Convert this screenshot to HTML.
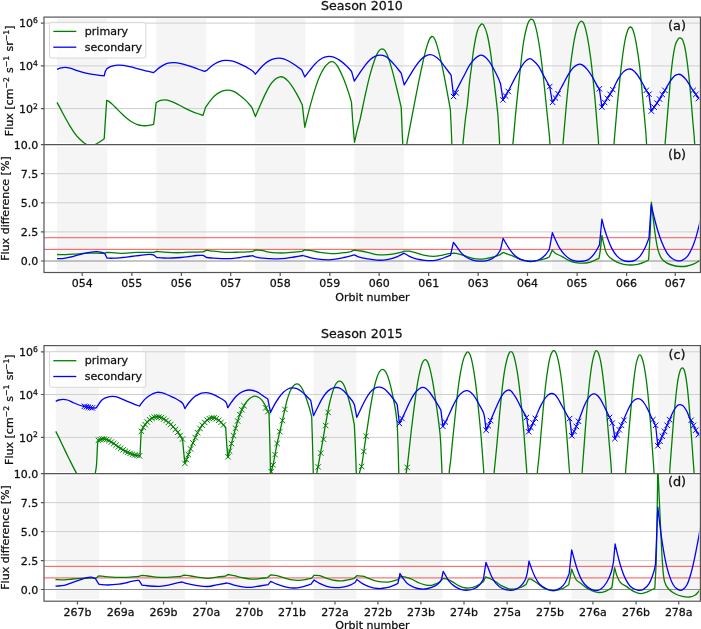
<!DOCTYPE html>
<html><head><meta charset="utf-8"><title>Flux comparison</title>
<style>html,body{margin:0;padding:0;background:#fff}svg{display:block}</style>
</head><body>
<svg width="701" height="629" viewBox="0 0 701 629" font-family='"DejaVu Sans", "Liberation Sans", sans-serif'>
<style>text{stroke:#111;stroke-width:0.28px;stroke-linejoin:round}</style>
<rect width="701" height="629" fill="#fff"/>
<defs><clipPath id="clip1t"><rect x="44" y="17.1" width="655.2" height="127.5"/></clipPath>
<clipPath id="clip1b"><rect x="44" y="144.6" width="655.2" height="127.9"/></clipPath></defs>
<rect x="57" y="18.5" width="50.3" height="124.3" fill="#f5f5f5"/>
<rect x="57" y="147" width="50.3" height="123.5" fill="#f5f5f5"/>
<rect x="156.3" y="18.5" width="50.1" height="124.3" fill="#f5f5f5"/>
<rect x="156.3" y="147" width="50.1" height="123.5" fill="#f5f5f5"/>
<rect x="255" y="18.5" width="50.3" height="124.3" fill="#f5f5f5"/>
<rect x="255" y="147" width="50.3" height="123.5" fill="#f5f5f5"/>
<rect x="354.3" y="18.5" width="49.6" height="124.3" fill="#f5f5f5"/>
<rect x="354.3" y="147" width="49.6" height="123.5" fill="#f5f5f5"/>
<rect x="453.3" y="18.5" width="49.6" height="124.3" fill="#f5f5f5"/>
<rect x="453.3" y="147" width="49.6" height="123.5" fill="#f5f5f5"/>
<rect x="552" y="18.5" width="50.2" height="124.3" fill="#f5f5f5"/>
<rect x="552" y="147" width="50.2" height="123.5" fill="#f5f5f5"/>
<rect x="651" y="18.5" width="48.4" height="124.3" fill="#f5f5f5"/>
<rect x="651" y="147" width="48.4" height="123.5" fill="#f5f5f5"/>
<line x1="44" x2="700.4" y1="23.1" y2="23.1" stroke="#cfcfcf" stroke-width="1"/>
<line x1="44" x2="700.4" y1="65.9" y2="65.9" stroke="#cfcfcf" stroke-width="1"/>
<line x1="44" x2="700.4" y1="108.6" y2="108.6" stroke="#cfcfcf" stroke-width="1"/>
<line x1="44" x2="700.4" y1="173.7" y2="173.7" stroke="#cfcfcf" stroke-width="1"/>
<line x1="44" x2="700.4" y1="202.8" y2="202.8" stroke="#cfcfcf" stroke-width="1"/>
<line x1="44" x2="700.4" y1="231.9" y2="231.9" stroke="#cfcfcf" stroke-width="1"/>
<line x1="44" x2="700.4" y1="261" y2="261" stroke="#8c8c8c" stroke-width="1"/>
<line x1="44" x2="700.4" y1="249.36" y2="249.36" stroke="#ff5252" stroke-width="1"/>
<line x1="44" x2="700.4" y1="237.72" y2="237.72" stroke="#ff5252" stroke-width="1"/>
<g clip-path="url(#clip1t)" fill="none" stroke-width="1.3" stroke-linejoin="round">
<path d="M57 102.4C58 104.23 59.01 106.06 60 107.9C61.68 111.03 63.29 114.19 65 117.3C66.62 120.26 68.25 123.22 70 126.1C71.55 128.65 73.11 131.22 74.9 133.6C76.41 135.62 78.11 137.53 79.9 139.3C81.44 140.83 83.06 142.4 84.9 143.5C86.59 144.5 88.61 145.52 90.5 145.6C92.37 145.68 94.39 144.73 96.2 144C97.52 143.47 98.7 142.58 99.9 141.8C101.36 140.85 102.77 139.8 104.2 138.8C104.6 132.47 104.99 126.13 105.4 119.8C105.82 113.33 106.27 106.87 106.7 100.4C107.33 100.63 108.05 100.72 108.6 101.1C109.95 102.05 111.18 103.25 112.4 104.4C114.11 106.02 115.73 107.74 117.4 109.4C119.06 111.04 120.7 112.7 122.4 114.3C124.03 115.84 125.65 117.4 127.4 118.8C128.99 120.07 130.65 121.28 132.4 122.3C133.98 123.22 135.67 124.02 137.4 124.6C138.97 125.12 140.65 125.43 142.3 125.6C143.95 125.77 145.65 125.79 147.3 125.6C149.42 125.36 151.5 124.73 153.6 124.3C154 121.13 154.43 117.97 154.8 114.8C155.26 110.84 155.67 106.87 156.1 102.9C157.33 102.13 158.46 101.06 159.8 100.6C161.36 100.06 163.14 99.85 164.8 99.9C166.47 99.95 168.2 100.36 169.8 100.9C172.36 101.76 174.85 102.92 177.3 104.1C179.85 105.32 182.27 106.83 184.8 108.1C187.27 109.33 189.75 110.55 192.3 111.6C194.75 112.61 197.29 113.43 199.8 114.3C200.86 114.67 201.93 114.97 203 115.3C203.83 112.67 204.67 110.03 205.5 107.4C207 105.3 208.38 103.11 210 101.1C211.55 99.17 213.17 97.25 215 95.6C216.5 94.25 218.21 93.03 220 92.1C221.55 91.3 223.3 90.79 225 90.4C226.2 90.12 227.49 89.96 228.7 90.1C230.39 90.29 232.16 90.67 233.7 91.4C235.9 92.44 237.95 93.92 239.9 95.4C242.11 97.08 244.23 98.93 246.2 100.9C248.23 102.93 250 105.23 251.9 107.4C253.07 110.47 254.23 113.53 255.4 116.6C256.9 113.1 258.37 109.59 259.9 106.1C261.54 102.35 263.12 98.58 264.9 94.9C266.46 91.68 267.97 88.39 269.9 85.4C271.3 83.22 272.96 81.05 274.9 79.4C276.29 78.22 278.16 77.3 279.9 76.9C281.06 76.63 282.55 76.83 283.6 77.4C285.45 78.4 287.16 79.99 288.6 81.6C290.49 83.72 292.07 86.18 293.6 88.6C295.4 91.45 297.01 94.42 298.6 97.4C299.91 99.86 301.07 102.4 302.3 104.9C303.13 112.37 303.97 119.83 304.8 127.3C306.47 120.67 308.03 114.01 309.8 107.4C311.37 101.54 312.95 95.68 314.8 89.9C316.29 85.24 317.85 80.57 319.8 76.1C321.19 72.91 322.88 69.78 324.8 66.9C325.81 65.38 327.16 63.97 328.6 62.9C329.49 62.24 330.74 61.7 331.8 61.7C332.8 61.7 334.04 62.19 334.8 62.9C336.27 64.26 337.5 66.09 338.5 67.9C340.4 71.33 342.01 74.96 343.5 78.6C345.35 83.13 346.94 87.76 348.5 92.4C349.61 95.7 350.5 99.07 351.5 102.4C351.93 109.03 352.3 115.67 352.8 122.3C353.3 128.97 353.93 135.63 354.5 142.3C355.43 138.13 356.29 133.95 357.3 129.8C358.12 126.45 359.23 123.16 360 119.8C361.8 111.93 363.24 103.98 365 96.1C366.58 89.01 368.13 81.91 370 74.9C371.46 69.44 373.06 63.99 375 58.7C375.96 56.09 377.12 53.41 378.7 51.2C379.46 50.14 380.88 48.99 382 48.9C382.98 48.82 384.37 49.77 385 50.7C386.6 53.04 387.7 55.94 388.7 58.7C390.17 62.78 391.27 67 392.4 71.2C394.17 77.8 395.78 84.45 397.4 91.1C398.72 96.52 399.93 101.97 401.2 107.4C401.77 120.27 402.1 133.15 402.9 146C403.23 151.35 404.03 156.67 404.6 162C405.3 156.27 405.83 150.51 406.7 144.8C407.59 138.94 408.81 133.13 409.9 127.3C411.54 118.56 413.2 109.83 414.9 101.1C416.53 92.76 418.15 84.41 419.9 76.1C421.48 68.61 423.05 61.12 424.9 53.7C425.95 49.49 426.98 45.18 428.6 41.2C429.31 39.45 430.69 36.83 431.9 36.5C432.79 36.26 434.33 38.24 434.9 39.5C436.56 43.14 437.54 47.25 438.6 51.2C440.04 56.55 441.23 61.98 442.4 67.4C443.73 73.61 444.92 79.86 446.1 86.1C447.59 94.02 448.97 101.97 450.4 109.9C450.9 121.93 451.61 133.96 451.9 146C452.58 174.33 452.83 202.67 453.3 231C456.47 202.27 459.69 173.54 462.8 144.8C463.69 136.54 464.36 128.25 465.3 120C465.9 114.72 466.81 109.48 467.4 104.2C468.31 96.11 468.91 87.99 469.8 79.9C470.24 75.92 470.9 71.97 471.4 68C472.16 61.97 472.64 55.9 473.6 49.9C474.61 43.63 475.54 37.24 477.3 31.2C478.04 28.68 479.52 25.75 481.1 24.2C481.62 23.69 483.19 24.29 483.6 25C485.26 27.89 486.45 31.56 487.3 35C488.82 41.13 489.77 47.44 490.7 53.7C491.8 61.14 492.49 68.63 493.4 76.1C494.26 83.2 495.17 90.3 496 97.4C496.67 103.2 497.27 109 497.9 114.8C498.47 124.8 499.33 134.79 499.6 144.8C500.53 179.86 500.87 214.93 501.5 250C505.27 214.93 509.17 179.88 512.8 144.8C514 133.18 514.86 121.53 516 109.9C517.19 97.83 518.46 85.76 519.8 73.7C520.96 63.29 521.91 52.84 523.5 42.5C524.41 36.61 525.6 30.67 527.3 25C527.93 22.9 529.12 20.2 530.5 19.2C531.18 18.7 533.07 19.57 533.5 20.5C535.3 24.4 536.29 29.23 537.2 33.7C538.79 41.53 539.94 49.47 541 57.4C542.44 68.2 543.53 79.06 544.7 89.9C545.86 100.69 546.96 111.49 548 122.3C548.72 129.79 549.8 137.28 550 144.8C551.03 183.18 551.13 221.6 551.7 260C555.43 221.6 559.27 183.21 562.9 144.8C564 133.18 564.81 121.52 565.9 109.9C567.07 97.39 568.26 84.88 569.7 72.4C570.76 63.21 571.88 54.02 573.4 44.9C574.38 39.05 575.43 33.1 577.2 27.5C577.93 25.2 579.44 22.03 580.9 21.2C581.68 20.76 583.41 22.54 583.9 23.7C585.51 27.54 586.38 31.97 587.2 36.2C588.72 44.04 589.9 51.97 590.9 59.9C592.37 71.54 593.48 83.22 594.6 94.9C595.55 104.86 596.3 114.83 597.1 124.8C597.63 131.46 598.41 138.12 598.6 144.8C599.88 189.85 600.53 234.93 601.5 280C605.63 234.93 609.83 189.87 613.9 144.8C615.03 132.34 615.94 119.86 617.1 107.4C618.27 94.89 619.46 82.38 620.9 69.9C621.96 60.75 623.03 51.57 624.6 42.5C625.33 38.27 626.34 33.97 627.8 30C628.24 28.8 629.43 27.09 630.3 27C631.09 26.92 632.38 28.43 632.8 29.5C634.22 33.16 635.07 37.25 635.8 41.2C637.33 49.48 638.61 57.83 639.6 66.2C641.11 79.07 642.15 91.99 643.3 104.9C644.48 118.19 646.07 131.47 646.6 144.8C648.64 196.5 649.53 248.27 651 300C655.67 248.27 660.41 196.54 665 144.8C666.18 131.51 667.14 118.19 668.3 104.9C669.47 91.56 670.45 78.19 672 64.9C672.78 58.19 673.73 51.42 675.3 44.9C675.83 42.72 677.04 40.56 678.3 38.8C678.71 38.23 679.72 37.71 680.3 37.9C681.22 38.21 682.4 39.25 682.8 40.3C684.23 44.08 685.15 48.3 685.8 52.4C687.38 62.34 688.47 72.38 689.5 82.4C690.77 94.85 691.66 107.33 692.7 119.8C693.39 128.13 694.36 136.45 694.7 144.8C696.79 196.51 698.23 248.27 700 300" stroke="#008000"/>
<path d="M57 69.4C58.4 68.9 59.77 68.26 61.2 67.9C62.43 67.59 63.74 67.36 65 67.4C66.67 67.46 68.37 67.77 70 68.2C72.51 68.87 74.92 69.92 77.4 70.7C79.88 71.48 82.37 72.28 84.9 72.9C87.37 73.51 89.89 73.98 92.4 74.4C94.89 74.81 97.4 75.08 99.9 75.4C101.33 75.58 102.77 75.73 104.2 75.9C104.6 74.33 104.84 72.7 105.4 71.2C105.74 70.3 106.4 69.53 106.9 68.7C108.3 67.93 109.6 66.9 111.1 66.4C113.1 65.73 115.28 65.37 117.4 65.2C119.45 65.04 121.55 65.15 123.6 65.4C125.72 65.65 127.82 66.19 129.9 66.7C133.25 67.52 136.56 68.54 139.9 69.4C142.36 70.04 144.83 70.61 147.3 71.2C149.4 71.71 151.5 72.2 153.6 72.7C154.17 72.2 154.73 71.69 155.3 71.2C156.79 69.92 158.21 68.54 159.8 67.4C161.38 66.27 163.04 65.19 164.8 64.4C166.37 63.69 168.1 63.19 169.8 62.9C171.43 62.62 173.14 62.62 174.8 62.7C176.47 62.78 178.16 63.05 179.8 63.4C182.32 63.95 184.82 64.66 187.3 65.4C189.82 66.16 192.32 67.02 194.8 67.9C197.32 68.79 199.78 69.82 202.3 70.7C203.12 70.99 203.97 71.17 204.8 71.4C205.63 70.9 206.53 70.49 207.3 69.9C208.27 69.16 209.05 68.17 210 67.4C211.61 66.1 213.23 64.76 215 63.7C216.56 62.76 218.27 61.97 220 61.4C221.6 60.87 223.32 60.52 225 60.4C226.65 60.28 228.36 60.45 230 60.7C231.69 60.95 233.4 61.32 235 61.9C237.53 62.82 239.98 64.01 242.4 65.2C244.94 66.45 247.44 67.8 249.9 69.2C250.94 69.8 251.9 70.53 252.9 71.2C253.73 72.2 254.57 73.2 255.4 74.2C256.9 72.37 258.31 70.45 259.9 68.7C261.48 66.95 263.1 65.2 264.9 63.7C266.43 62.43 268.13 61.29 269.9 60.4C271.46 59.62 273.2 59.13 274.9 58.7C276.1 58.4 277.37 58.17 278.6 58.2C280.27 58.24 282.01 58.41 283.6 58.9C285.77 59.57 287.89 60.61 289.9 61.7C292.05 62.87 294.08 64.31 296.1 65.7C298.04 67.04 299.9 68.5 301.8 69.9C302.8 72.23 303.8 74.57 304.8 76.9C306.47 74.73 308.11 72.55 309.8 70.4C311.44 68.31 312.99 66.13 314.8 64.2C316.33 62.57 317.98 60.97 319.8 59.7C321.31 58.64 323.06 57.82 324.8 57.2C326.16 56.72 327.67 56.4 329.1 56.4C330.6 56.4 332.19 56.67 333.6 57.2C335.75 58.01 337.87 59.12 339.8 60.4C342 61.86 344.05 63.6 346 65.4C347.95 67.2 349.67 69.27 351.5 71.2C352.43 74.5 353.37 77.8 354.3 81.1C356.13 78.33 357.92 75.54 359.8 72.8C361.42 70.44 363.04 68.06 364.8 65.8C366.38 63.76 367.92 61.63 369.8 59.9C371.32 58.5 373.13 57.26 375 56.4C376.53 55.69 378.33 55.23 380 55.2C381.66 55.17 383.5 55.49 385 56.2C386.83 57.06 388.48 58.5 390 59.9C391.81 61.57 393.4 63.51 395 65.4C397.14 67.94 399.13 70.6 401.2 73.2C402.2 77.1 403.2 81 404.2 84.9C406.1 81.73 407.97 78.55 409.9 75.4C411.54 72.72 413.13 70 414.9 67.4C416.47 65.1 418.04 62.75 419.9 60.7C421.37 59.08 423.05 57.51 424.9 56.4C426.38 55.51 428.22 54.73 429.9 54.7C431.56 54.67 433.42 55.36 434.9 56.2C436.75 57.26 438.42 58.82 439.9 60.4C441.76 62.39 443.24 64.73 444.9 66.9C446.98 69.63 449.03 72.37 451.1 75.1C451.9 81.97 452.7 88.83 453.5 95.7C454.37 94.07 455.24 92.43 456.1 90.8C457.37 88.4 458.64 86 459.9 83.6C461.54 80.47 463.15 77.32 464.8 74.2C466.45 71.09 467.9 67.85 469.8 64.9C471.23 62.68 472.9 60.51 474.8 58.7C476.23 57.34 478.01 55.97 479.8 55.4C480.94 55.04 482.56 55.27 483.6 55.9C485.49 57.04 487.19 58.89 488.6 60.7C490.52 63.16 492.08 65.95 493.6 68.7C495.38 71.92 496.96 75.26 498.5 78.6C499.26 80.26 499.83 82 500.5 83.7C501.33 88.97 502.17 94.23 503 99.5C504 97.87 505.01 96.24 506 94.6C507.28 92.47 508.62 90.38 509.8 88.2C511.55 84.98 513.07 81.63 514.8 78.4C516.4 75.4 518.04 72.41 519.8 69.5C521.37 66.91 522.79 64.09 524.8 61.9C526.09 60.49 528.03 58.93 529.7 58.7C530.93 58.53 532.43 59.78 533.5 60.7C535.36 62.28 537.12 64.17 538.5 66.2C540.45 69.07 541.82 72.34 543.5 75.4C545.55 79.14 547.63 82.87 549.7 86.6C550.57 91.83 551.43 97.07 552.3 102.3C553.33 100.87 554.42 99.47 555.4 98C556.32 96.6 557.19 95.16 558 93.7C559.85 90.36 561.59 86.96 563.4 83.6C565.06 80.53 566.63 77.41 568.4 74.4C569.3 72.87 570.37 71.44 571.4 70C572.04 69.11 572.56 68.07 573.4 67.4C574.89 66.21 576.63 64.9 578.4 64.4C579.56 64.07 581.14 64.3 582.2 64.9C584.07 65.96 585.76 67.7 587.2 69.4C589.09 71.63 590.66 74.19 592.2 76.7C593.96 79.59 595.37 82.69 597.1 85.6C597.77 86.73 598.63 87.73 599.4 88.8C600.23 94.9 601.07 101 601.9 107.1C602.83 105.57 603.75 104.02 604.7 102.5C605.58 101.09 606.5 99.7 607.4 98.3C608.27 96.94 609.15 95.57 610 94.2C610.95 92.67 611.95 91.18 612.8 89.6C614.75 85.98 616.29 82.12 618.4 78.6C619.83 76.22 621.42 73.78 623.4 71.9C624.72 70.64 626.58 69.66 628.3 69.2C629.48 68.89 631.06 68.98 632.1 69.6C634 70.74 635.68 72.67 637.1 74.5C639.01 76.97 640.52 79.78 642.1 82.5C643.59 85.05 644.84 87.74 646.3 90.3C647.14 91.77 648.1 93.17 649 94.6C649.77 100.1 650.53 105.6 651.3 111.1C652.23 109.77 653.16 108.43 654.1 107.1C655.06 105.76 656.07 104.46 657 103.1C657.9 101.79 658.77 100.45 659.6 99.1C660.53 97.59 661.38 96.02 662.3 94.5C663.15 93.09 664.06 91.71 664.9 90.3C666.66 87.35 668.19 84.25 670.1 81.4C671.46 79.38 672.92 77.28 674.7 75.7C675.59 74.91 676.94 74.4 678.1 74.3C679.2 74.2 680.57 74.47 681.5 75.1C683.24 76.27 684.73 78.04 686.1 79.7C687.39 81.27 688.39 83.09 689.5 84.8C690.72 86.69 691.85 88.63 693.1 90.5C694.35 92.37 695.6 94.24 697 96C698.2 97.51 699.53 98.93 700.9 100.3C701.87 101.27 702.97 102.1 704 103" stroke="#0000ff"/>
<path d="M450.8 93.8l5.4 5.4M450.8 99.2l5.4 -5.4M453.3 90.1l5.4 5.4M453.3 95.5l5.4 -5.4M500.3 97.2l5.4 5.4M500.3 102.6l5.4 -5.4M502.9 93.3l5.4 5.4M502.9 98.7l5.4 -5.4M505.6 88.8l5.4 5.4M505.6 94.2l5.4 -5.4M547 83.9l5.4 5.4M547 89.3l5.4 -5.4M549.9 99.6l5.4 5.4M549.9 105l5.4 -5.4M552.7 95.3l5.4 5.4M552.7 100.7l5.4 -5.4M555.3 91l5.4 5.4M555.3 96.4l5.4 -5.4M596.7 86.1l5.4 5.4M596.7 91.5l5.4 -5.4M599.2 104.4l5.4 5.4M599.2 109.8l5.4 -5.4M602 99.8l5.4 5.4M602 105.2l5.4 -5.4M604.7 95.6l5.4 5.4M604.7 101l5.4 -5.4M607.3 91.5l5.4 5.4M607.3 96.9l5.4 -5.4M610.1 86.9l5.4 5.4M610.1 92.3l5.4 -5.4M643.6 87.6l5.4 5.4M643.6 93l5.4 -5.4M646.3 91.5l5.4 5.4M646.3 96.9l5.4 -5.4M648.6 108.4l5.4 5.4M648.6 113.8l5.4 -5.4M651.4 104.4l5.4 5.4M651.4 109.8l5.4 -5.4M654.3 100.4l5.4 5.4M654.3 105.8l5.4 -5.4M656.9 96.4l5.4 5.4M656.9 101.8l5.4 -5.4M659.6 91.8l5.4 5.4M659.6 97.2l5.4 -5.4M662.2 87.6l5.4 5.4M662.2 93l5.4 -5.4M690.4 87.8l5.4 5.4M690.4 93.2l5.4 -5.4M693.1 91.8l5.4 5.4M693.1 97.2l5.4 -5.4M695.7 95.8l5.4 5.4M695.7 101.2l5.4 -5.4" stroke="#0000ff" stroke-width="1.0" fill="none"/>
</g>
<g clip-path="url(#clip1b)" fill="none" stroke-width="1.3" stroke-linejoin="round">
<path d="M57.1 254.5C59.97 254.53 62.84 254.67 65.7 254.6C68.54 254.53 71.37 254.3 74.2 254.1C77.07 253.9 79.93 253.57 82.8 253.4C85.66 253.23 88.53 253.12 91.4 253.1C94.23 253.08 97.07 253.23 99.9 253.3C101.33 253.33 102.77 253.37 104.2 253.4C105.07 253.07 105.93 252.73 106.8 252.4C108.5 252.5 110.2 252.59 111.9 252.7C114.77 252.89 117.63 253.27 120.5 253.3C123.33 253.33 126.17 253.05 129 252.9C131.87 252.75 134.73 252.48 137.6 252.4C140.46 252.32 143.33 252.4 146.2 252.4C148.77 252.4 151.33 252.4 153.9 252.4C154.8 252.03 155.7 251.67 156.6 251.3C158.97 251.57 161.33 251.9 163.7 252.1C166.56 252.34 169.43 252.5 172.3 252.6C175.13 252.7 177.97 252.77 180.8 252.7C183.67 252.63 186.53 252.3 189.4 252.2C192.23 252.1 195.07 252.16 197.9 252.1C199.63 252.06 201.37 251.97 203.1 251.9C204.23 251.33 205.37 250.77 206.5 250.2C208.8 250.53 211.09 250.92 213.4 251.2C216.23 251.55 219.06 251.9 221.9 252.1C224.76 252.3 227.63 252.38 230.5 252.4C233.33 252.42 236.17 252.28 239 252.2C241.87 252.12 244.74 252.05 247.6 251.9C249.3 251.81 251 251.63 252.7 251.5C253.87 250.93 255.03 250.37 256.2 249.8C258.47 250.1 260.76 250.28 263 250.7C264.89 251.05 266.7 251.8 268.6 252.1C271.4 252.54 274.26 252.77 277.1 252.9C279.96 253.03 282.84 253.03 285.7 252.9C288.54 252.77 291.37 252.36 294.2 252.1C296.8 251.86 299.4 251.63 302 251.4C302.97 250.87 303.93 250.33 304.9 249.8C307.07 250.1 309.25 250.33 311.4 250.7C314.25 251.19 317.05 251.95 319.9 252.4C322.75 252.85 325.63 253.18 328.5 253.4C330.76 253.58 333.04 253.7 335.3 253.6C338.17 253.47 341.04 253.05 343.9 252.7C346.21 252.42 348.5 252.03 350.8 251.7C351.93 251.13 353.07 250.57 354.2 250C356.47 250.33 358.75 250.58 361 251C363.88 251.54 366.74 252.25 369.6 252.9C372 253.45 374.37 254.26 376.8 254.6C379.07 254.92 381.4 254.97 383.7 254.9C386.57 254.81 389.46 254.52 392.3 254.1C395.16 253.68 398 253.08 400.8 252.4C401.97 252.12 403.07 251.6 404.2 251.2C405.93 251.2 407.7 250.96 409.4 251.2C411.7 251.53 413.94 252.3 416.2 252.9C419.08 253.67 421.89 254.72 424.8 255.3C427.62 255.86 430.53 256.3 433.4 256.3C436.23 256.3 439.09 255.77 441.9 255.3C444.22 254.91 446.48 254.11 448.8 253.7C450.48 253.41 452.2 253.37 453.9 253.2C455.6 253.5 457.32 253.7 459 254.1C461.32 254.66 463.62 255.38 465.9 256.1C468.18 256.82 470.38 257.87 472.7 258.4C474.95 258.91 477.3 259.2 479.6 259.2C482 259.2 484.42 258.77 486.8 258.4C489.12 258.04 491.44 257.61 493.7 257C495.74 256.45 497.7 255.6 499.7 254.9C500.83 254.07 501.97 253.23 503.1 252.4C504.53 252.97 505.95 253.58 507.4 254.1C509.08 254.71 510.85 255.11 512.5 255.8C514.28 256.54 515.9 257.71 517.7 258.4C519.9 259.24 522.19 259.95 524.5 260.4C526.76 260.85 529.1 261.1 531.4 261.1C533.67 261.1 535.96 260.79 538.2 260.4C540.53 259.99 542.84 259.39 545.1 258.7C546.54 258.26 547.9 257.57 549.3 257C550.3 254.7 551.3 252.4 552.3 250.1C553.3 251.13 554.11 252.42 555.3 253.2C557.41 254.59 559.95 255.38 562.2 256.6C564.51 257.85 566.61 259.55 569 260.6C571.18 261.55 573.56 262.16 575.9 262.6C578.13 263.02 580.44 263.25 582.7 263.2C585.01 263.15 587.36 262.84 589.6 262.3C591.36 261.87 593.02 261.01 594.7 260.3C596.15 259.68 597.57 258.97 599 258.3C599.43 255.57 599.95 252.84 600.3 250.1C600.92 245.24 601.37 240.37 601.9 235.5C602.47 238.07 602.95 240.66 603.6 243.2C604.41 246.36 604.99 249.67 606.3 252.6C607.16 254.53 608.52 256.4 610.1 257.8C612.09 259.57 614.57 260.95 617 262.1C619.14 263.11 621.48 263.81 623.8 264.3C626.05 264.78 628.4 265 630.7 265C632.97 265 635.28 264.77 637.5 264.3C639.85 263.8 642.16 262.97 644.4 262.1C645.86 261.54 647.2 260.7 648.6 260C649.07 252.13 649.62 244.27 650 236.4C650.55 224.97 650.93 213.53 651.4 202.1C651.9 206.67 652.35 211.24 652.9 215.8C653.72 222.67 654.46 229.56 655.5 236.4C656.2 240.99 656.88 245.64 658.1 250.1C658.88 252.94 659.9 255.89 661.5 258.3C662.74 260.16 664.67 261.74 666.6 262.9C668.67 264.14 671.14 264.88 673.5 265.5C675.7 266.08 678.02 266.42 680.3 266.5C682.59 266.58 684.95 266.44 687.2 266C689.52 265.54 691.82 264.72 694 263.8C695.62 263.12 697.16 262.19 698.6 261.2C699.49 260.59 700.2 259.73 701 259" stroke="#008000"/>
<path d="M57.1 258.7C59.4 258.6 61.72 258.68 64 258.4C66.29 258.12 68.55 257.54 70.8 257C73.12 256.44 75.4 255.72 77.7 255.1C79.96 254.49 82.21 253.8 84.5 253.3C86.78 252.8 89.09 252.41 91.4 252.1C93.09 251.87 94.81 251.65 96.5 251.7C98.21 251.75 99.93 252.05 101.6 252.4C102.66 252.62 103.67 253.07 104.7 253.4C105.5 255 106.3 256.6 107.1 258.2C109.27 258.2 111.44 258.3 113.6 258.2C116.47 258.07 119.34 257.78 122.2 257.5C125.07 257.22 127.93 256.84 130.8 256.5C133.63 256.17 136.47 255.85 139.3 255.5C141.6 255.22 143.89 254.79 146.2 254.6C147.89 254.46 149.61 254.41 151.3 254.5C152.14 254.54 152.97 254.83 153.8 255C154.8 255.83 155.8 256.67 156.8 257.5C159.1 257.67 161.4 257.93 163.7 258C166.56 258.09 169.44 258.08 172.3 258C175.14 257.92 177.97 257.75 180.8 257.5C183.67 257.25 186.54 256.87 189.4 256.5C191.67 256.2 193.92 255.7 196.2 255.5C198.49 255.3 200.8 255.37 203.1 255.3C204.23 256.03 205.37 256.77 206.5 257.5C208.8 257.73 211.09 258.04 213.4 258.2C216.23 258.4 219.07 258.53 221.9 258.6C224.77 258.67 227.64 258.73 230.5 258.6C232.77 258.5 235.04 258.21 237.3 257.9C239.61 257.58 241.89 257.03 244.2 256.7C247.02 256.3 249.87 256.03 252.7 255.7C253.87 256.2 254.98 256.9 256.2 257.2C258.41 257.74 260.72 257.94 263 258.2C264.86 258.41 266.73 258.51 268.6 258.6C271.43 258.74 274.27 258.93 277.1 258.9C279.97 258.87 282.85 258.72 285.7 258.4C288.55 258.08 291.37 257.48 294.2 257C297.07 256.51 299.93 256 302.8 255.5C305.1 256.17 307.37 256.94 309.7 257.5C312.51 258.17 315.34 258.85 318.2 259.2C321.61 259.62 325.07 259.8 328.5 259.8C330.77 259.8 333.05 259.54 335.3 259.2C338.19 258.77 341.05 258.13 343.9 257.5C346.21 256.99 348.51 256.4 350.8 255.8C351.94 255.5 353.07 255.13 354.2 254.8C355.9 255.6 357.51 256.67 359.3 257.2C362.08 258.03 365.02 258.42 367.9 258.9C370.85 259.39 373.82 259.87 376.8 260.1C379.09 260.27 381.42 260.3 383.7 260.1C385.98 259.9 388.28 259.47 390.5 258.9C392.84 258.3 395.17 257.53 397.4 256.6C399.73 255.63 401.93 254.33 404.2 253.2C405.93 254.23 407.58 255.44 409.4 256.3C411.58 257.34 413.87 258.28 416.2 258.9C419 259.65 421.91 260.11 424.8 260.4C427.65 260.68 430.56 260.82 433.4 260.6C435.69 260.42 437.99 259.85 440.2 259.2C442.55 258.51 444.8 257.47 447.1 256.6C448.23 256.17 449.37 255.73 450.5 255.3C451.47 251 452.43 246.7 453.4 242.4C454.43 243.73 455.5 245.04 456.5 246.4C457.96 248.38 459.18 250.57 460.8 252.4C462.31 254.1 464 255.77 465.9 257C467.97 258.34 470.34 259.39 472.7 260.1C474.9 260.76 477.29 261.02 479.6 261.1C481.99 261.18 484.46 261.05 486.8 260.6C488.59 260.25 490.4 259.58 492 258.7C493.84 257.68 495.66 256.41 497.1 254.9C498.49 253.44 499.37 251.5 500.5 249.8C501.37 245.97 502.23 242.13 503.1 238.3C503.97 239.83 504.79 241.39 505.7 242.9C507.09 245.22 508.41 247.62 510 249.8C511.54 251.92 513.16 254.07 515.1 255.8C516.86 257.37 518.94 258.76 521.1 259.7C523.21 260.62 525.6 261.16 527.9 261.4C530.17 261.63 532.56 261.51 534.8 261.1C536.56 260.78 538.34 260.08 539.9 259.2C541.77 258.15 543.61 256.84 545.1 255.3C546.74 253.61 547.9 251.43 549.3 249.5C550.33 243.9 551.37 238.3 552.4 232.7C553.37 234.97 554.26 237.27 555.3 239.5C556.66 242.4 557.92 245.38 559.6 248.1C561.09 250.52 562.83 252.87 564.8 254.9C566.56 256.71 568.58 258.49 570.8 259.6C572.84 260.62 575.3 261.08 577.6 261.3C579.87 261.52 582.28 261.38 584.5 260.9C586.28 260.51 588.15 259.79 589.6 258.7C591.55 257.23 593.25 255.22 594.7 253.2C596.55 250.62 597.9 247.67 599.5 244.9C600.3 236.33 601.1 227.77 601.9 219.2C602.63 222.07 603.26 224.96 604.1 227.8C605.13 231.26 606.24 234.72 607.5 238.1C608.8 241.58 610.07 245.13 611.8 248.4C613.24 251.13 614.92 253.87 617 256.1C618.62 257.84 620.75 259.32 622.9 260.3C624.72 261.12 626.9 261.5 628.9 261.5C630.9 261.5 633.12 261.16 634.9 260.3C636.85 259.36 638.72 257.81 640.1 256.1C642.16 253.54 643.73 250.48 645.2 247.5C646.69 244.48 647.73 241.23 649 238.1C649.73 226.97 650.47 215.83 651.2 204.7C652.07 208.4 652.88 212.11 653.8 215.8C654.88 220.11 655.92 224.44 657.2 228.7C658.49 233.01 659.84 237.33 661.5 241.5C662.97 245.19 664.54 248.94 666.6 252.3C667.97 254.54 669.79 256.66 671.8 258.3C673.23 259.46 675.12 260.35 676.9 260.7C678.52 261.02 680.47 260.91 682 260.3C683.91 259.54 685.9 258.22 687.2 256.6C689.33 253.95 690.85 250.65 692.3 247.5C693.69 244.48 694.7 241.28 695.7 238.1C696.77 234.71 697.59 231.24 698.5 227.8C699.36 224.54 700.17 221.27 701 218" stroke="#0000ff"/>
</g>
<g stroke="#555555" stroke-width="1.2" fill="none">
<rect x="44" y="17.1" width="656.4" height="255.4"/>
<line x1="44" x2="700.4" y1="144.6" y2="144.6"/>
<path d="M82.2 272.5v3.4M131.85 272.5v3.4M181.35 272.5v3.4M230.7 272.5v3.4M280.2 272.5v3.4M329.85 272.5v3.4M379.15 272.5v3.4M428.65 272.5v3.4M478.15 272.5v3.4M527.5 272.5v3.4M577.1 272.5v3.4M626.6 272.5v3.4M675.25 272.5v3.4M44 23.1h-3.1M44 65.9h-3.1M44 108.6h-3.1M44 144.6h-3.1M44 173.7h-3.1M44 202.8h-3.1M44 231.9h-3.1M44 261h-3.1"/>
</g>
<g font-size="11.0" fill="#111">
<text x="82.2" y="287.1" text-anchor="middle">054</text>
<text x="131.85" y="287.1" text-anchor="middle">055</text>
<text x="181.35" y="287.1" text-anchor="middle">056</text>
<text x="230.7" y="287.1" text-anchor="middle">057</text>
<text x="280.2" y="287.1" text-anchor="middle">058</text>
<text x="329.85" y="287.1" text-anchor="middle">059</text>
<text x="379.15" y="287.1" text-anchor="middle">060</text>
<text x="428.65" y="287.1" text-anchor="middle">061</text>
<text x="478.15" y="287.1" text-anchor="middle">063</text>
<text x="527.5" y="287.1" text-anchor="middle">064</text>
<text x="577.1" y="287.1" text-anchor="middle">065</text>
<text x="626.6" y="287.1" text-anchor="middle">066</text>
<text x="675.25" y="287.1" text-anchor="middle">067</text>
<text x="38.0" y="27.4" text-anchor="end">10<tspan font-size="7.7" dy="-4.3">6</tspan></text>
<text x="38.0" y="70.2" text-anchor="end">10<tspan font-size="7.7" dy="-4.3">4</tspan></text>
<text x="38.0" y="112.9" text-anchor="end">10<tspan font-size="7.7" dy="-4.3">2</tspan></text>
<text x="38.3" y="148.8" text-anchor="end">10.0</text>
<text x="38.3" y="177.9" text-anchor="end">7.5</text>
<text x="38.3" y="207" text-anchor="end">5.0</text>
<text x="38.3" y="236.1" text-anchor="end">2.5</text>
<text x="38.3" y="265.2" text-anchor="end">0.0</text>
</g>
<text transform="translate(13.3 80.85) rotate(-90)" text-anchor="middle" font-size="11.05" fill="#111">Flux [cm<tspan font-size="7.74" dy="-4.1">−2</tspan><tspan dy="4.1" dx="0.7"> s</tspan><tspan font-size="7.74" dy="-4.1">−1</tspan><tspan dy="4.1" dx="0.7"> sr</tspan><tspan font-size="7.74" dy="-4.1">−1</tspan><tspan dy="4.1">]</tspan></text>
<text transform="translate(8.5 208.55) rotate(-90)" text-anchor="middle" font-size="11.05" fill="#111">Flux difference [%]</text>
<text x="372.5" y="300.7" text-anchor="middle" font-size="11.05" fill="#111">Orbit number</text>
<text x="362" y="9.9" text-anchor="middle" font-size="12.6" fill="#111">Season 2010</text>
<text x="677" y="29.75" text-anchor="middle" font-size="12.9" fill="#111">(a)</text>
<text x="677" y="159.05" text-anchor="middle" font-size="12.9" fill="#111">(b)</text>
<rect x="49.5" y="22.4" width="96.3" height="35.6" rx="2" fill="#fff" fill-opacity="0.8" stroke="#d4d4d4" stroke-width="0.9"/>
<line x1="53.3" x2="76.3" y1="31.4" y2="31.4" stroke="#008000" stroke-width="1.3"/>
<line x1="53.3" x2="76.3" y1="47.2" y2="47.2" stroke="#0000ff" stroke-width="1.3"/>
<text x="84.8" y="34.7" font-size="11.05" fill="#111">primary</text>
<text x="84.8" y="50.5" font-size="11.05" fill="#111">secondary</text>
<defs><clipPath id="clip2t"><rect x="44" y="345.6" width="655.2" height="128.1"/></clipPath>
<clipPath id="clip2b"><rect x="44" y="473.7" width="655.2" height="127.5"/></clipPath></defs>
<rect x="55.75" y="347" width="43.35" height="124.9" fill="#f5f5f5"/>
<rect x="55.75" y="476.1" width="43.35" height="123.1" fill="#f5f5f5"/>
<rect x="142.2" y="347" width="42.7" height="124.9" fill="#f5f5f5"/>
<rect x="142.2" y="476.1" width="42.7" height="123.1" fill="#f5f5f5"/>
<rect x="227.8" y="347" width="42.7" height="124.9" fill="#f5f5f5"/>
<rect x="227.8" y="476.1" width="42.7" height="123.1" fill="#f5f5f5"/>
<rect x="313.5" y="347" width="43" height="124.9" fill="#f5f5f5"/>
<rect x="313.5" y="476.1" width="43" height="123.1" fill="#f5f5f5"/>
<rect x="399.4" y="347" width="43" height="124.9" fill="#f5f5f5"/>
<rect x="399.4" y="476.1" width="43" height="123.1" fill="#f5f5f5"/>
<rect x="485.6" y="347" width="43" height="124.9" fill="#f5f5f5"/>
<rect x="485.6" y="476.1" width="43" height="123.1" fill="#f5f5f5"/>
<rect x="571.4" y="347" width="43" height="124.9" fill="#f5f5f5"/>
<rect x="571.4" y="476.1" width="43" height="123.1" fill="#f5f5f5"/>
<rect x="657.8" y="347" width="41.9" height="124.9" fill="#f5f5f5"/>
<rect x="657.8" y="476.1" width="41.9" height="123.1" fill="#f5f5f5"/>
<line x1="44" x2="700.4" y1="351.8" y2="351.8" stroke="#cfcfcf" stroke-width="1"/>
<line x1="44" x2="700.4" y1="394.5" y2="394.5" stroke="#cfcfcf" stroke-width="1"/>
<line x1="44" x2="700.4" y1="437.4" y2="437.4" stroke="#cfcfcf" stroke-width="1"/>
<line x1="44" x2="700.4" y1="502.65" y2="502.65" stroke="#cfcfcf" stroke-width="1"/>
<line x1="44" x2="700.4" y1="531.6" y2="531.6" stroke="#cfcfcf" stroke-width="1"/>
<line x1="44" x2="700.4" y1="560.55" y2="560.55" stroke="#cfcfcf" stroke-width="1"/>
<line x1="44" x2="700.4" y1="589.5" y2="589.5" stroke="#8c8c8c" stroke-width="1"/>
<line x1="44" x2="700.4" y1="577.92" y2="577.92" stroke="#ff5252" stroke-width="1"/>
<line x1="44" x2="700.4" y1="566.34" y2="566.34" stroke="#ff5252" stroke-width="1"/>
<g clip-path="url(#clip2t)" fill="none" stroke-width="1.3" stroke-linejoin="round">
<path d="M55.75 431.4C56.77 433.4 57.81 435.39 58.8 437.4C59.99 439.82 61.14 442.26 62.3 444.7C63.44 447.1 64.55 449.51 65.7 451.9C66.81 454.21 67.96 456.5 69.1 458.8C70.23 461.07 71.31 463.36 72.5 465.6C73.88 468.2 74.95 471.06 76.8 473.3C79.45 476.52 82.86 481.83 86 482C88.96 482.16 92.07 476.87 95.1 474.3C95.57 471.2 96.25 468.12 96.5 465C97.08 457.89 97.06 450.71 97.6 443.6C97.69 442.44 98.13 441.33 98.4 440.2C99.73 439.77 101.04 439.06 102.4 438.9C103.57 438.76 104.85 438.98 106 439.3C107.25 439.65 108.46 440.26 109.6 440.9C111.23 441.82 112.76 442.93 114.3 444C115.93 445.13 117.45 446.4 119.1 447.5C120.65 448.54 122.27 449.49 123.9 450.4C125.44 451.26 126.99 452.09 128.6 452.8C130.16 453.49 131.77 454.11 133.4 454.6C134.97 455.07 136.59 455.38 138.2 455.7C138.79 455.82 139.4 455.83 140 455.9C140.2 451.8 140.4 447.7 140.6 443.6C140.8 439.63 141 435.67 141.2 431.7C141.97 430.1 142.6 428.42 143.5 426.9C144.36 425.45 145.4 424.08 146.5 422.8C147.6 421.52 148.77 420.23 150.1 419.2C151.17 418.37 152.41 417.59 153.7 417.2C155.05 416.79 156.59 416.71 158 416.8C159.15 416.87 160.34 417.23 161.4 417.7C162.9 418.36 164.34 419.25 165.7 420.2C167.21 421.25 168.63 422.46 170 423.7C171.47 425.03 172.87 426.43 174.2 427.9C175.71 429.57 177.16 431.3 178.5 433.1C179.93 435.03 181.17 437.1 182.5 439.1C182.9 443.37 183.28 447.64 183.7 451.9C184.08 455.74 184.5 459.57 184.9 463.4C185.63 461.57 186.38 459.74 187.1 457.9C187.98 455.64 188.82 453.36 189.7 451.1C190.82 448.23 191.91 445.34 193.1 442.5C194.18 439.91 195.28 437.32 196.5 434.8C197.54 432.66 198.64 430.52 199.9 428.5C200.94 426.82 202.14 425.22 203.4 423.7C204.44 422.45 205.55 421.21 206.8 420.2C207.81 419.38 208.99 418.65 210.2 418.2C211.26 417.81 212.5 417.57 213.6 417.7C214.8 417.84 216.03 418.39 217.1 419C218.33 419.69 219.47 420.63 220.5 421.6C221.73 422.76 222.82 424.09 223.9 425.4C224.55 426.19 225.1 427.07 225.7 427.9C226.07 433.63 226.39 439.37 226.8 445.1C227.09 449.24 227.47 453.37 227.8 457.5C228.5 455.03 229.25 452.58 229.9 450.1C230.55 447.65 231.08 445.16 231.7 442.7C232.32 440.23 232.94 437.76 233.6 435.3C234.27 432.82 235 430.37 235.7 427.9C236.33 425.7 236.94 423.49 237.6 421.3C238.21 419.29 238.8 417.27 239.5 415.3C240.03 413.81 240.64 412.34 241.3 410.9C241.98 409.41 242.72 407.94 243.5 406.5C244.18 405.24 244.84 403.94 245.7 402.8C246.64 401.54 247.73 400.35 248.9 399.3C249.89 398.41 251.03 397.62 252.2 397C252.99 396.58 253.93 396.14 254.8 396.2C256.17 396.3 257.69 396.79 258.9 397.5C260.19 398.26 261.38 399.39 262.3 400.6C263.65 402.36 264.66 404.42 265.7 406.4C266.53 407.98 267.11 409.7 267.9 411.3C268.21 411.93 268.63 412.5 269 413.1C269.27 422.13 269.57 431.17 269.8 440.2C270.1 451.8 270.33 463.4 270.6 475C270.8 473.87 270.92 472.72 271.2 471.6C271.76 469.35 272.59 467.16 273.1 464.9C273.86 461.5 274.36 458.03 275 454.6C275.69 450.9 276.33 447.19 277.1 443.5C277.93 439.52 278.89 435.56 279.8 431.6C280.65 427.9 281.55 424.2 282.4 420.5C283.25 416.8 284.06 413.1 284.9 409.4C285.52 406.66 286.07 403.91 286.8 401.2C287.44 398.81 288.16 396.43 289 394.1C289.63 392.36 290.33 390.62 291.2 389C291.83 387.82 292.54 386.58 293.5 385.7C294.4 384.88 295.68 383.99 296.8 383.9C297.75 383.82 298.94 384.51 299.7 385.2C300.81 386.21 301.69 387.63 302.4 389C303.69 391.49 304.72 394.16 305.7 396.8C306.92 400.09 307.99 403.44 309 406.8C309.99 410.11 310.8 413.47 311.7 416.8C312 426.83 312.32 436.87 312.6 446.9C312.85 455.8 313.03 464.7 313.3 473.6C313.77 489.07 314.3 504.53 314.8 520C315.47 504.53 315.8 489.03 316.8 473.6C317 470.6 317.87 467.67 318.4 464.7C319.13 460.63 319.85 456.56 320.6 452.5C321.35 448.4 322.18 444.31 322.9 440.2C323.68 435.77 324.34 431.33 325.1 426.9C325.81 422.8 326.53 418.69 327.3 414.6C328 410.89 328.67 407.18 329.5 403.5C330.17 400.51 330.95 397.54 331.8 394.6C332.45 392.34 333.14 390.08 334 387.9C334.61 386.35 335.22 384.69 336.2 383.4C336.92 382.46 338.06 381.4 339.1 381.2C339.99 381.03 341.31 381.61 342 382.3C343.17 383.47 344.03 385.19 344.7 386.8C346.03 390.03 347.03 393.43 348 396.8C349.27 401.23 350.38 405.71 351.4 410.2C352.48 414.97 353.33 419.8 354.3 424.6C354.67 432.03 355.1 439.46 355.4 446.9C355.76 455.8 356.02 464.7 356.3 473.6C356.79 489.07 357.23 504.53 357.7 520C358.27 504.53 358.29 488.98 359.4 473.6C359.59 470.92 361.08 468.45 361.6 465.8C362.54 461.05 363.09 456.2 363.8 451.4C364.55 446.34 365.24 441.26 366 436.2C366.74 431.23 367.54 426.27 368.3 421.3C369.04 416.47 369.71 411.62 370.5 406.8C371.17 402.72 371.9 398.65 372.7 394.6C373.37 391.22 374.06 387.84 374.9 384.5C375.56 381.87 376.3 379.25 377.2 376.7C377.8 375.02 378.4 373.23 379.4 371.8C380.1 370.8 381.29 369.5 382.3 369.4C383.22 369.3 384.53 370.33 385.2 371.2C386.4 372.76 387.2 374.79 387.9 376.7C388.97 379.62 389.75 382.67 390.5 385.7C391.59 390.1 392.5 394.55 393.4 399C394.23 403.09 395.06 407.18 395.7 411.3C396.33 415.35 396.7 419.43 397.2 423.5C397.5 431.3 397.85 439.1 398.1 446.9C398.38 455.8 398.53 464.7 398.8 473.6C399.67 502.4 400.6 531.2 401.5 560C403.03 531.2 404.34 502.37 406.1 473.6C406.24 471.37 406.91 469.21 407.2 467C407.88 461.81 408.42 456.6 409 451.4C409.75 444.7 410.43 438 411.2 431.3C411.93 425 412.7 418.7 413.5 412.4C414.2 406.83 414.92 401.26 415.7 395.7C416.38 390.86 417.05 386.01 417.9 381.2C418.55 377.48 419.31 373.77 420.2 370.1C420.81 367.6 421.33 364.98 422.4 362.7C422.97 361.48 424.13 359.81 425.1 359.6C425.83 359.44 427.01 360.72 427.5 361.6C428.54 363.45 429.14 365.68 429.7 367.8C430.77 371.85 431.63 375.97 432.4 380.1C433.43 385.64 434.25 391.23 435.1 396.8C436.12 403.46 437.13 410.12 438 416.8C438.83 423.12 439.66 429.45 440.2 435.8C440.76 442.45 440.98 449.13 441.3 455.8C441.58 461.73 441.87 467.66 442 473.6C442.93 515.73 443.67 557.87 444.5 600C446.03 557.87 447.23 515.71 449.1 473.6C449.3 469.14 450.23 464.74 450.7 460.3C451.33 454.34 451.81 448.36 452.4 442.4C453.14 435 453.93 427.6 454.7 420.2C455.43 413.13 456.1 406.06 456.9 399C457.57 393.06 458.25 387.12 459.1 381.2C459.75 376.72 460.5 372.24 461.4 367.8C462 364.81 462.69 361.81 463.6 358.9C464.15 357.14 464.86 355.36 465.8 353.8C466.26 353.03 467.17 351.8 467.8 351.9C468.57 352.03 469.57 353.47 470 354.5C471.03 356.94 471.64 359.66 472.2 362.3C473.14 366.69 473.83 371.15 474.5 375.6C475.33 381.15 476.05 386.72 476.7 392.3C477.52 399.36 478.2 406.43 478.9 413.5C479.7 421.66 480.5 429.83 481.2 438C481.83 445.43 482.36 452.86 482.9 460.3C483.22 464.73 483.72 469.16 483.8 473.6C484.92 532.39 485.6 591.2 486.5 650C489.03 591.2 491.31 532.38 494.1 473.6C494.35 468.38 495.11 463.2 495.6 458C496.37 449.83 497.15 441.67 497.9 433.5C498.65 425.33 499.31 417.16 500.1 409C500.78 401.96 501.48 394.92 502.3 387.9C502.95 382.32 503.61 376.74 504.5 371.2C505.11 367.44 505.87 363.69 506.8 360C507.37 357.76 508.02 355.45 509 353.4C509.36 352.65 510.17 351.6 510.8 351.6C511.5 351.6 512.62 352.57 513 353.4C514.09 355.77 514.61 358.57 515.2 361.2C516.11 365.23 516.86 369.31 517.5 373.4C518.36 378.95 519.05 384.52 519.7 390.1C520.52 397.16 521.22 404.23 521.9 411.3C522.69 419.46 523.43 427.63 524.1 435.8C524.77 443.96 525.32 452.13 525.9 460.3C526.22 464.73 526.72 469.16 526.8 473.6C527.92 535.72 528.6 597.87 529.5 660C532.1 597.87 534.38 535.71 537.3 473.6C537.58 467.64 538.55 461.74 539.1 455.8C539.89 447.27 540.55 438.73 541.3 430.2C542.02 422.03 542.71 413.86 543.5 405.7C544.18 398.63 544.86 391.55 545.7 384.5C546.36 378.92 547.1 373.34 548 367.8C548.6 364.08 549.22 360.32 550.2 356.7C550.68 354.92 551.45 353.1 552.4 351.6C552.71 351.1 553.56 350.49 554 350.7C554.83 351.09 555.76 352.35 556.2 353.4C557.23 355.85 557.84 358.56 558.4 361.2C559.34 365.59 560.06 370.05 560.7 374.5C561.56 380.42 562.27 386.36 562.9 392.3C563.73 400.09 564.41 407.9 565.1 415.7C565.88 424.6 566.6 433.5 567.3 442.4C567.94 450.56 568.5 458.73 569.1 466.9C569.26 469.13 569.56 471.36 569.6 473.6C570.7 542.39 571.53 611.2 572.5 680C575.7 611.2 578.73 542.39 582.1 473.6C582.46 466.19 583.16 458.8 583.7 451.4C584.29 443.23 584.86 435.06 585.5 426.9C586.2 417.96 586.88 409.03 587.7 400.1C588.35 393.06 589.06 386.02 589.9 379C590.53 373.79 591.18 368.56 592.1 363.4C592.68 360.16 593.42 356.92 594.4 353.8C594.75 352.68 595.4 350.86 596.1 350.7C596.73 350.56 597.99 351.95 598.4 352.9C599.49 355.45 600.06 358.39 600.6 361.2C601.52 365.96 602.17 370.79 602.8 375.6C603.67 382.29 604.42 388.99 605.1 395.7C605.92 403.86 606.6 412.03 607.3 420.2C608.06 429.1 608.8 438 609.5 446.9C610.2 455.8 611.29 464.68 611.5 473.6C613.29 549.05 614.17 624.53 615.5 700C618.83 624.53 621.95 549.05 625.5 473.6C625.81 466.92 626.56 460.27 627.1 453.6C627.82 444.7 628.54 435.8 629.3 426.9C630.04 418.33 630.78 409.76 631.6 401.2C632.28 394.16 632.96 387.12 633.8 380.1C634.43 374.89 635.03 369.65 636 364.5C636.5 361.85 637.22 359.17 638.2 356.7C638.49 355.97 639.28 354.8 639.8 354.9C640.48 355.03 641.42 356.42 641.8 357.4C642.82 359.99 643.45 362.83 644 365.6C644.95 370.39 645.67 375.25 646.3 380.1C647.17 386.75 647.86 393.42 648.5 400.1C649.32 408.62 650.03 417.16 650.7 425.7C651.43 435 652.06 444.3 652.7 453.6C653.16 460.26 653.85 466.92 654 473.6C655.79 555.72 657 637.87 658.5 720C662.2 637.87 665.72 555.72 669.6 473.6C669.95 466.19 670.65 458.8 671.2 451.4C671.92 441.73 672.59 432.06 673.4 422.4C674.09 414.23 674.83 406.06 675.7 397.9C676.33 391.96 676.95 385.99 677.9 380.1C678.41 376.93 679.03 373.68 680.1 370.7C680.5 369.58 681.6 367.72 682.3 367.8C683.1 367.89 684.23 369.91 684.6 371.2C685.73 375.11 686.26 379.31 686.8 383.4C687.73 390.44 688.38 397.52 689 404.6C689.85 414.22 690.48 423.87 691.2 433.5C691.98 443.9 692.75 454.3 693.5 464.7C693.71 467.67 694.02 470.63 694.1 473.6C695.19 515.73 696.03 557.87 697 600" stroke="#008000"/>
<path d="M55.75 401.4C56.77 400.93 57.73 400.3 58.8 400C60.18 399.6 61.67 399.3 63.1 399.3C64.53 399.3 66.03 399.56 67.4 400C69.16 400.56 70.79 401.55 72.5 402.3C74.22 403.05 75.94 403.83 77.7 404.5C79.37 405.13 81.07 405.73 82.8 406.2C84.47 406.66 86.18 407.04 87.9 407.3C90.18 407.64 92.5 407.89 94.8 408C95.37 408.03 95.93 407.8 96.5 407.7C97.07 406.77 97.59 405.81 98.2 404.9C99.16 403.47 100.02 401.92 101.2 400.7C102.22 399.65 103.49 398.74 104.8 398.1C106.29 397.37 107.97 396.95 109.6 396.6C110.74 396.35 111.94 396.25 113.1 396.3C114.31 396.35 115.55 396.54 116.7 396.9C118.75 397.54 120.71 398.47 122.7 399.3C124.68 400.13 126.62 401.07 128.6 401.9C130.59 402.73 132.59 403.52 134.6 404.3C136.19 404.92 137.8 405.5 139.4 406.1C140.17 405.1 140.9 404.07 141.7 403.1C142.87 401.67 143.99 400.19 145.3 398.9C146.39 397.82 147.65 396.89 148.9 396C150.05 395.19 151.23 394.37 152.5 393.8C153.96 393.14 155.53 392.49 157.1 392.3C158.5 392.13 159.99 392.42 161.4 392.7C162.86 392.99 164.3 393.47 165.7 394C167.44 394.67 169.11 395.51 170.8 396.3C172.54 397.11 174.31 397.88 176 398.8C177.75 399.75 179.5 400.74 181.1 401.9C181.9 402.48 182.5 403.3 183.2 404C183.77 405.53 184.33 407.07 184.9 408.6C185.9 407.07 186.82 405.48 187.9 404C188.99 402.51 190.14 401.05 191.4 399.7C192.44 398.58 193.58 397.52 194.8 396.6C195.85 395.82 197.03 395.19 198.2 394.6C199.29 394.05 200.42 393.49 201.6 393.2C202.99 392.86 204.47 392.67 205.9 392.7C207.34 392.73 208.81 393 210.2 393.4C211.95 393.9 213.65 394.63 215.3 395.4C217.08 396.23 218.8 397.21 220.5 398.2C221.96 399.05 223.51 399.84 224.8 400.9C225.51 401.48 225.93 402.37 226.5 403.1C226.93 404.63 227.37 406.17 227.8 407.7C228.8 406.17 229.76 404.6 230.8 403.1C231.89 401.54 232.97 399.95 234.2 398.5C235.24 397.28 236.4 396.16 237.6 395.1C238.67 394.16 239.79 393.24 241 392.5C242.09 391.84 243.29 391.29 244.5 390.9C245.89 390.46 247.36 390.07 248.8 390C250.26 389.93 251.78 390.14 253.2 390.5C254.71 390.88 256.21 391.48 257.6 392.2C259.24 393.05 260.75 394.17 262.3 395.2C264.15 396.44 265.97 397.73 267.8 399C268.7 403.47 269.6 407.93 270.5 412.4C271.83 409.8 273.05 407.14 274.5 404.6C275.89 402.17 277.36 399.76 279 397.5C280.33 395.66 281.77 393.86 283.4 392.3C284.74 391.02 286.26 389.81 287.9 389C289.23 388.34 290.82 387.97 292.3 387.9C293.79 387.83 295.4 388.08 296.8 388.6C298.37 389.18 299.84 390.19 301.2 391.2C302.8 392.39 304.27 393.8 305.7 395.2C307.47 396.93 309.1 398.8 310.8 400.6C311.7 405.63 312.6 410.67 313.5 415.7C314.6 413.47 315.69 411.23 316.8 409C318.29 406.03 319.65 402.98 321.3 400.1C322.61 397.81 324.02 395.52 325.7 393.5C326.99 391.95 328.52 390.48 330.2 389.4C331.52 388.55 333.15 387.96 334.7 387.7C336.12 387.46 337.76 387.43 339.1 387.9C340.73 388.47 342.27 389.63 343.6 390.8C345.24 392.23 346.57 394.03 348 395.7C349.54 397.5 351.12 399.28 352.5 401.2C353.26 402.25 353.77 403.47 354.4 404.6C355.2 408.83 356 413.07 356.8 417.3C357.87 415.13 358.96 412.98 360 410.8C361.16 408.38 362.17 405.88 363.4 403.5C364.77 400.85 366.15 398.18 367.8 395.7C369.12 393.71 370.57 391.71 372.3 390.1C373.54 388.94 375.13 387.98 376.7 387.4C377.73 387.02 379.01 386.98 380.1 387.2C381.61 387.51 383.23 388.1 384.5 389C386.2 390.2 387.59 391.92 389 393.5C390.56 395.25 392.01 397.11 393.4 399C394.74 400.81 395.93 402.73 397.2 404.6C397.93 410.9 398.67 417.2 399.4 423.5C400.37 421.67 401.38 419.86 402.3 418C403.48 415.62 404.58 413.21 405.7 410.8C407.18 407.61 408.49 404.33 410.1 401.2C411.46 398.56 412.86 395.88 414.6 393.5C415.83 391.82 417.37 390.27 419 389C419.97 388.24 421.23 387.52 422.4 387.4C423.46 387.29 424.8 387.66 425.7 388.3C427.4 389.52 428.87 391.3 430.2 393C431.84 395.1 433.15 397.45 434.6 399.7C436.12 402.05 437.66 404.4 439.1 406.8C439.76 407.9 440.3 409.07 440.9 410.2C441.57 415.6 442.23 421 442.9 426.4C443.87 424.7 444.89 423.03 445.8 421.3C446.96 419.1 448.05 416.86 449.1 414.6C450.65 411.29 451.97 407.87 453.6 404.6C454.93 401.93 456.27 399.2 458 396.8C459.23 395.1 460.82 393.53 462.5 392.3C463.59 391.5 465 390.8 466.3 390.7C467.5 390.6 468.96 391.04 470 391.7C471.33 392.54 472.39 393.93 473.4 395.2C474.62 396.73 475.68 398.42 476.7 400.1C477.88 402.05 478.91 404.1 480 406.1C481.14 408.2 482.48 410.22 483.4 412.4C483.98 413.78 484.13 415.33 484.5 416.8C485.03 421.27 485.57 425.73 486.1 430.2C486.9 428.7 487.79 427.24 488.5 425.7C489.49 423.54 490.29 421.29 491.2 419.1C492.29 416.49 493.39 413.89 494.5 411.3C495.62 408.69 496.71 406.07 497.9 403.5C498.94 401.24 499.94 398.94 501.2 396.8C502.14 395.2 503.21 393.59 504.5 392.3C505.44 391.36 506.69 390.39 507.9 390.1C508.79 389.89 510.07 390.19 510.8 390.8C512.31 392.06 513.44 394 514.6 395.7C515.8 397.46 516.88 399.32 517.9 401.2C519.08 403.39 520.04 405.7 521.2 407.9C522.27 409.93 523.49 411.89 524.6 413.9C525.35 415.26 526.07 416.63 526.8 418C527.4 422.6 528 427.2 528.6 431.8C529.5 430.17 530.47 428.57 531.3 426.9C532.47 424.54 533.54 422.12 534.6 419.7C535.74 417.12 536.76 414.48 537.9 411.9C538.99 409.45 540.06 406.98 541.3 404.6C542.3 402.68 543.36 400.77 544.6 399C545.6 397.57 546.68 396.08 548 395C548.91 394.25 550.18 393.57 551.3 393.5C552.41 393.43 553.79 393.91 554.7 394.6C556.02 395.61 557.05 397.16 558 398.6C559.25 400.5 560.2 402.6 561.3 404.6C562.43 406.67 563.57 408.73 564.7 410.8C565.8 412.8 566.81 414.86 568 416.8C568.51 417.63 569.2 418.33 569.8 419.1C570.47 424.67 571.13 430.23 571.8 435.8C572.77 433.93 573.82 432.11 574.7 430.2C575.88 427.64 576.94 425.02 578 422.4C579.04 419.82 580.02 417.21 581 414.6C582.12 411.64 583.05 408.6 584.3 405.7C585.29 403.4 586.38 401.11 587.7 399C588.61 397.54 589.68 396.01 591 395C591.91 394.31 593.31 393.79 594.4 393.9C595.54 394.02 596.81 394.86 597.7 395.7C599.01 396.93 600.06 398.54 601 400.1C602.29 402.24 603.28 404.56 604.4 406.8C605.51 409.03 606.59 411.27 607.7 413.5C608.82 415.74 610.02 417.94 611.1 420.2C611.72 421.51 612.23 422.87 612.8 424.2C613.5 429.03 614.2 433.87 614.9 438.7C615.83 436.6 616.71 434.47 617.7 432.4C618.78 430.14 620.05 427.97 621.1 425.7C622.28 423.14 623.28 420.49 624.4 417.9C625.51 415.32 626.59 412.73 627.8 410.2C628.82 408.06 629.8 405.86 631.1 403.9C632.03 402.49 633.19 401.13 634.5 400.1C635.43 399.37 636.68 398.67 637.8 398.6C638.88 398.53 640.19 399.04 641.1 399.7C642.43 400.67 643.55 402.11 644.5 403.5C645.78 405.37 646.77 407.46 647.8 409.5C649.01 411.9 650.04 414.38 651.2 416.8C652.27 419.05 653.47 421.24 654.5 423.5C655 424.6 655.37 425.77 655.8 426.9C656.47 433.2 657.13 439.5 657.8 445.8C658.77 443.8 659.78 441.82 660.7 439.8C661.81 437.35 662.81 434.86 663.9 432.4C664.98 429.96 666.12 427.54 667.2 425.1C668.32 422.57 669.37 420.02 670.5 417.5C671.6 415.05 672.58 412.52 673.9 410.2C674.81 408.59 675.87 406.9 677.2 405.7C677.94 405.03 679.15 404.54 680.1 404.6C681.21 404.67 682.58 405.28 683.4 406.1C684.81 407.51 685.85 409.47 686.8 411.3C688.09 413.8 688.91 416.54 690.1 419.1C691.14 421.34 692.35 423.51 693.5 425.7C694.58 427.74 695.47 429.94 696.8 431.8C697.97 433.44 699.57 434.77 701 436.2C701.97 437.17 703 438.07 704 439" stroke="#0000ff"/>
<path d="M95.7 437.5l5.4 5.4M95.7 442.9l5.4 -5.4M97.52 436.91l5.4 5.4M97.52 442.31l5.4 -5.4M99.43 436.29l5.4 5.4M99.43 441.69l5.4 -5.4M101.58 436.41l5.4 5.4M101.58 441.81l5.4 -5.4M103.91 436.87l5.4 5.4M103.91 442.27l5.4 -5.4M106.26 437.91l5.4 5.4M106.26 443.31l5.4 -5.4M108.61 439.33l5.4 5.4M108.61 444.73l5.4 -5.4M110.96 440.88l5.4 5.4M110.96 446.28l5.4 -5.4M113.31 442.55l5.4 5.4M113.31 447.95l5.4 -5.4M115.66 444.26l5.4 5.4M115.66 449.66l5.4 -5.4M118.01 445.77l5.4 5.4M118.01 451.17l5.4 -5.4M120.36 447.19l5.4 5.4M120.36 452.59l5.4 -5.4M122.71 448.47l5.4 5.4M122.71 453.87l5.4 -5.4M125.06 449.67l5.4 5.4M125.06 455.07l5.4 -5.4M127.41 450.67l5.4 5.4M127.41 456.07l5.4 -5.4M129.76 451.55l5.4 5.4M129.76 456.95l5.4 -5.4M132.11 452.22l5.4 5.4M132.11 457.62l5.4 -5.4M134.46 452.76l5.4 5.4M134.46 458.16l5.4 -5.4M136.78 453.14l5.4 5.4M136.78 458.54l5.4 -5.4M138.7 428.58l5.4 5.4M138.7 433.98l5.4 -5.4M140.54 424.73l5.4 5.4M140.54 430.13l5.4 -5.4M142.44 421.96l5.4 5.4M142.44 427.36l5.4 -5.4M144.58 419.32l5.4 5.4M144.58 424.72l5.4 -5.4M146.91 416.99l5.4 5.4M146.91 422.39l5.4 -5.4M149.26 415.47l5.4 5.4M149.26 420.87l5.4 -5.4M151.61 414.44l5.4 5.4M151.61 419.84l5.4 -5.4M153.96 414.22l5.4 5.4M153.96 419.62l5.4 -5.4M156.31 414.37l5.4 5.4M156.31 419.77l5.4 -5.4M158.66 414.99l5.4 5.4M158.66 420.39l5.4 -5.4M161.01 416.34l5.4 5.4M161.01 421.74l5.4 -5.4M163.36 417.79l5.4 5.4M163.36 423.19l5.4 -5.4M165.71 419.71l5.4 5.4M165.71 425.11l5.4 -5.4M168.06 421.76l5.4 5.4M168.06 427.16l5.4 -5.4M170.41 424.11l5.4 5.4M170.41 429.51l5.4 -5.4M172.76 426.72l5.4 5.4M172.76 432.12l5.4 -5.4M175.11 429.56l5.4 5.4M175.11 434.96l5.4 -5.4M177.46 432.89l5.4 5.4M177.46 438.29l5.4 -5.4M179.76 436.34l5.4 5.4M179.76 441.74l5.4 -5.4M182.2 460.7l5.4 5.4M182.2 466.1l5.4 -5.4M183.7 456.95l5.4 5.4M183.7 462.35l5.4 -5.4M185.67 451.88l5.4 5.4M185.67 457.28l5.4 -5.4M187.86 446.22l5.4 5.4M187.86 451.62l5.4 -5.4M190.21 440.27l5.4 5.4M190.21 445.67l5.4 -5.4M192.56 434.9l5.4 5.4M192.56 440.3l5.4 -5.4M194.91 430.04l5.4 5.4M194.91 435.44l5.4 -5.4M197.26 425.71l5.4 5.4M197.26 431.11l5.4 -5.4M199.61 422.49l5.4 5.4M199.61 427.89l5.4 -5.4M201.96 419.7l5.4 5.4M201.96 425.1l5.4 -5.4M204.31 417.37l5.4 5.4M204.31 422.77l5.4 -5.4M206.66 415.99l5.4 5.4M206.66 421.39l5.4 -5.4M209.01 415.28l5.4 5.4M209.01 420.68l5.4 -5.4M211.36 415.17l5.4 5.4M211.36 420.57l5.4 -5.4M213.71 416.05l5.4 5.4M213.71 421.45l5.4 -5.4M216.06 417.57l5.4 5.4M216.06 422.97l5.4 -5.4M218.41 419.59l5.4 5.4M218.41 424.99l5.4 -5.4M220.76 422.21l5.4 5.4M220.76 427.61l5.4 -5.4M225.3 454.1l5.4 5.4M225.3 459.5l5.4 -5.4M226.92 448.38l5.4 5.4M226.92 453.78l5.4 -5.4M228.79 440.88l5.4 5.4M228.79 446.28l5.4 -5.4M230.79 433.02l5.4 5.4M230.79 438.42l5.4 -5.4M232.89 425.58l5.4 5.4M232.89 430.98l5.4 -5.4M234.99 418.31l5.4 5.4M234.99 423.71l5.4 -5.4M237.09 411.89l5.4 5.4M237.09 417.29l5.4 -5.4M239.19 407.02l5.4 5.4M239.19 412.42l5.4 -5.4M241.29 402.97l5.4 5.4M241.29 408.37l5.4 -5.4M263 405.2l5.4 5.4M263 410.6l5.4 -5.4M265.2 408.9l5.4 5.4M265.2 414.3l5.4 -5.4M268.5 468.9l5.4 5.4M268.5 474.3l5.4 -5.4M270.4 462.2l5.4 5.4M270.4 467.6l5.4 -5.4M272.3 451.9l5.4 5.4M272.3 457.3l5.4 -5.4M274.4 440.8l5.4 5.4M274.4 446.2l5.4 -5.4M277.1 428.9l5.4 5.4M277.1 434.3l5.4 -5.4M279.7 417.8l5.4 5.4M279.7 423.2l5.4 -5.4M282.2 406.7l5.4 5.4M282.2 412.1l5.4 -5.4M315.5 464.2l5.4 5.4M315.5 469.6l5.4 -5.4M318.1 450.4l5.4 5.4M318.1 455.8l5.4 -5.4M320.8 436.5l5.4 5.4M320.8 441.9l5.4 -5.4M323 422.9l5.4 5.4M323 428.3l5.4 -5.4M325.4 409.7l5.4 5.4M325.4 415.1l5.4 -5.4M358.9 463.8l5.4 5.4M358.9 469.2l5.4 -5.4M361.1 448.7l5.4 5.4M361.1 454.1l5.4 -5.4M363.3 433.5l5.4 5.4M363.3 438.9l5.4 -5.4M404.5 464.7l5.4 5.4M404.5 470.1l5.4 -5.4" stroke="#008000" stroke-width="1.0" fill="none"/>
<path d="M81.7 403.6l5.4 5.4M81.7 409l5.4 -5.4M83.7 404.1l5.4 5.4M83.7 409.5l5.4 -5.4M85.7 404.5l5.4 5.4M85.7 409.9l5.4 -5.4M87.7 404.9l5.4 5.4M87.7 410.3l5.4 -5.4M89.7 405.2l5.4 5.4M89.7 410.6l5.4 -5.4M396.7 420.8l5.4 5.4M396.7 426.2l5.4 -5.4M399.2 415.7l5.4 5.4M399.2 421.1l5.4 -5.4M440.2 423.7l5.4 5.4M440.2 429.1l5.4 -5.4M442.6 419.3l5.4 5.4M442.6 424.7l5.4 -5.4M483.4 427.5l5.4 5.4M483.4 432.9l5.4 -5.4M485.6 423l5.4 5.4M485.6 428.4l5.4 -5.4M487.8 417.9l5.4 5.4M487.8 423.3l5.4 -5.4M523.7 414.8l5.4 5.4M523.7 420.2l5.4 -5.4M525.9 429.1l5.4 5.4M525.9 434.5l5.4 -5.4M528.1 424.8l5.4 5.4M528.1 430.2l5.4 -5.4M530.4 420.2l5.4 5.4M530.4 425.6l5.4 -5.4M532.6 415.7l5.4 5.4M532.6 421.1l5.4 -5.4M566.9 415.9l5.4 5.4M566.9 421.3l5.4 -5.4M569.1 433.1l5.4 5.4M569.1 438.5l5.4 -5.4M571.3 428.6l5.4 5.4M571.3 434l5.4 -5.4M573.6 423.7l5.4 5.4M573.6 429.1l5.4 -5.4M575.8 418.6l5.4 5.4M575.8 424l5.4 -5.4M606.8 414.8l5.4 5.4M606.8 420.2l5.4 -5.4M609.5 420.4l5.4 5.4M609.5 425.8l5.4 -5.4M612.2 436l5.4 5.4M612.2 441.4l5.4 -5.4M614.4 432l5.4 5.4M614.4 437.4l5.4 -5.4M616.6 427.1l5.4 5.4M616.6 432.5l5.4 -5.4M618.8 422.6l5.4 5.4M618.8 428l5.4 -5.4M621.3 417.5l5.4 5.4M621.3 422.9l5.4 -5.4M650.2 417l5.4 5.4M650.2 422.4l5.4 -5.4M652.9 422.6l5.4 5.4M652.9 428l5.4 -5.4M655.1 443.1l5.4 5.4M655.1 448.5l5.4 -5.4M657.4 438.6l5.4 5.4M657.4 444l5.4 -5.4M659.6 433.5l5.4 5.4M659.6 438.9l5.4 -5.4M661.8 428.6l5.4 5.4M661.8 434l5.4 -5.4M664.5 422.6l5.4 5.4M664.5 428l5.4 -5.4M666.9 417l5.4 5.4M666.9 422.4l5.4 -5.4M688.5 417.5l5.4 5.4M688.5 422.9l5.4 -5.4M690.8 422.6l5.4 5.4M690.8 428l5.4 -5.4M693 427.5l5.4 5.4M693 432.9l5.4 -5.4M695.7 432l5.4 5.4M695.7 437.4l5.4 -5.4" stroke="#0000ff" stroke-width="1.0" fill="none"/>
</g>
<g clip-path="url(#clip2b)" fill="none" stroke-width="1.3" stroke-linejoin="round">
<path d="M55.5 579.5C58.4 579.6 61.31 579.88 64.2 579.8C67.07 579.72 69.93 579.23 72.8 579C75.7 578.77 78.6 578.55 81.5 578.4C84.4 578.25 87.3 578.16 90.2 578.1C92.2 578.06 94.2 578.1 96.2 578.1C97.07 577.33 97.93 576.57 98.8 575.8C100.53 576 102.27 576.19 104 576.4C105.33 576.56 106.66 576.78 108 576.9C110.46 577.12 112.93 577.32 115.4 577.4C118.26 577.49 121.14 577.48 124 577.4C126.84 577.32 129.67 577.08 132.5 576.9C134.5 576.78 136.5 576.63 138.5 576.5C139.67 576.1 140.83 575.7 142 575.3C143.97 575.53 145.93 575.76 147.9 576C150.77 576.36 153.62 576.87 156.5 577.1C159.36 577.33 162.23 577.43 165.1 577.4C167.93 577.37 170.77 577.07 173.6 576.9C175.9 576.77 178.2 576.63 180.5 576.5C181.63 576.07 182.77 575.63 183.9 575.2C186.2 575.47 188.51 575.67 190.8 576C193.64 576.41 196.46 577.02 199.3 577.4C202.16 577.78 205.04 578.35 207.9 578.3C210.87 578.25 213.83 577.46 216.8 577.1C219.66 576.76 222.53 576.5 225.4 576.2C226.27 575.63 227.13 575.07 228 574.5C230 574.9 232.01 575.26 234 575.7C236.84 576.33 239.65 577.13 242.5 577.7C245.35 578.27 248.22 578.95 251.1 579.1C253.95 579.25 256.84 578.85 259.7 578.6C262.27 578.38 264.83 578 267.4 577.7C268.53 576.73 269.67 575.77 270.8 574.8C272.8 575.1 274.83 575.25 276.8 575.7C279.1 576.22 281.33 577.05 283.6 577.7C285.89 578.35 288.16 579.2 290.5 579.6C293.29 580.07 296.17 580.32 299 580.3C301.3 580.29 303.62 579.87 305.9 579.5C307.78 579.2 309.63 578.7 311.5 578.3C312.3 577.3 313.1 576.3 313.9 575.3C315.8 575.43 317.76 575.27 319.6 575.7C322.06 576.27 324.36 577.56 326.8 578.3C329.63 579.16 332.49 580.03 335.4 580.5C337.66 580.86 340.02 580.95 342.3 580.8C344.58 580.65 346.85 580.07 349.1 579.6C350.82 579.24 352.5 578.73 354.2 578.3C355.07 577.43 355.93 576.57 356.8 575.7C358.8 575.87 360.87 575.74 362.8 576.2C365.17 576.77 367.39 577.96 369.7 578.8C371.96 579.62 374.17 580.68 376.5 581.2C379.3 581.82 382.24 582.18 385.1 582.2C387.37 582.21 389.67 581.75 391.9 581.3C393.93 580.89 395.9 580.17 397.9 579.6C398.77 578.57 399.63 577.53 400.5 576.5C402.2 576.7 403.95 576.69 405.6 577.1C407.95 577.69 410.27 578.54 412.5 579.5C414.84 580.51 416.95 582.04 419.3 583C421.52 583.91 423.86 584.66 426.2 585.1C427.92 585.42 429.76 585.48 431.5 585.3C432.73 585.18 433.95 584.68 435.1 584.2C436.88 583.45 438.57 582.47 440.3 581.6C441.13 580.6 441.97 579.6 442.8 578.6C444.23 578.77 445.74 578.67 447.1 579.1C448.91 579.67 450.63 580.65 452.3 581.6C454.63 582.92 456.69 584.78 459.1 585.9C461.26 586.91 463.66 587.76 466 588C468.22 588.23 470.63 587.9 472.8 587.3C475.2 586.63 477.49 585.39 479.7 584.2C481.02 583.49 482.17 582.47 483.4 581.6C484.17 580 484.93 578.4 485.7 576.8C486.83 577.27 488 577.67 489.1 578.2C491.13 579.17 493.17 580.14 495.1 581.3C497.44 582.71 499.51 584.59 501.9 585.9C504.08 587.09 506.41 588.26 508.8 588.8C510.97 589.29 513.38 589.28 515.6 589C517.38 588.78 519.12 588 520.8 587.3C522.56 586.57 524.2 585.57 525.9 584.7C526.77 582.83 527.63 580.97 528.5 579.1C529.33 579.1 530.26 578.77 531 579.1C532.83 579.91 534.51 581.3 536.2 582.5C538.51 584.14 540.58 586.17 543 587.6C544.68 588.6 546.6 589.32 548.5 589.8C550.57 590.32 552.8 590.82 554.9 590.6C557.64 590.32 560.44 589.38 563 588.3C565.04 587.44 566.8 585.97 568.7 584.8C569.7 579.6 570.7 574.4 571.7 569.2C572.23 570.6 572.7 572.03 573.3 573.4C574.24 575.56 574.89 577.99 576.3 579.8C577.56 581.42 579.63 582.41 581.3 583.7C583.59 585.47 585.68 587.64 588.2 589C591.04 590.54 594.25 591.98 597.4 592.4C600.02 592.75 602.96 592.14 605.5 591.3C607.8 590.54 609.77 588.83 611.9 587.6C612.8 580.93 613.7 574.27 614.6 567.6C615.37 570.3 615.89 573.1 616.9 575.7C617.82 578.06 618.74 580.68 620.4 582.5C622.2 584.48 625 585.57 627.3 587.1C629.6 588.63 631.73 590.54 634.2 591.7C636.33 592.7 638.8 593.6 641.1 593.6C643.4 593.6 645.79 592.56 648 591.7C650.35 590.79 652.53 589.43 654.8 588.3C655.27 579.5 655.92 570.71 656.2 561.9C656.69 546.57 656.85 531.23 657.1 515.9C657.38 498.93 657.57 481.97 657.8 465C658.2 474.33 658.58 483.67 659 493C659.51 504.47 660.03 515.93 660.6 527.4C661.17 538.9 661.57 550.42 662.4 561.9C662.87 568.42 663.07 575.13 664.5 581.4C665.13 584.16 666.75 586.89 668.6 589C670.42 591.09 673.02 592.69 675.5 594C677.62 595.12 680.05 595.79 682.4 596.3C684.65 596.79 687.04 597.2 689.3 597C691.24 596.83 693.32 596.17 695 595.2C696.39 594.4 697.45 592.96 698.5 591.7C699.45 590.56 700.17 589.23 701 588" stroke="#008000"/>
<path d="M55.5 586.2C58.4 585.93 61.38 586.02 64.2 585.4C67.14 584.75 69.94 583.41 72.8 582.4C75.7 581.38 78.58 580.29 81.5 579.3C83.22 578.72 84.94 578.09 86.7 577.7C88.1 577.39 89.6 577.05 91 577.2C92.5 577.35 93.93 578.13 95.4 578.6C96.53 580.47 97.67 582.33 98.8 584.2C101.7 584.47 104.6 585 107.5 585C111.26 585 115.06 584.67 118.8 584.2C121.69 583.84 124.55 583.13 127.4 582.5C129.68 582 131.91 581.23 134.2 580.8C135.78 580.5 137.4 580.47 139 580.3C140 581.9 141 583.5 142 585.1C144.57 585.4 147.12 585.83 149.7 586C153.09 586.23 156.51 586.46 159.9 586.3C162.78 586.16 165.66 585.63 168.5 585.1C170.79 584.67 173.02 583.92 175.3 583.4C177.59 582.88 179.9 582.47 182.2 582C183.9 582.57 185.56 583.27 187.3 583.7C190.13 584.4 193.01 585.01 195.9 585.4C199.87 585.94 203.92 586.61 207.9 586.5C210.89 586.41 213.83 585.34 216.8 584.8C220.23 584.17 223.67 583.6 227.1 583C229.4 583.7 231.67 584.52 234 585.1C236.8 585.79 239.64 586.43 242.5 586.8C245.34 587.17 248.25 587.43 251.1 587.3C253.98 587.17 256.84 586.45 259.7 586C262.54 585.55 265.37 585.07 268.2 584.6C269.07 583.5 269.93 582.4 270.8 581.3C272.8 582.27 274.73 583.41 276.8 584.2C279.56 585.25 282.42 586.16 285.3 586.8C288.12 587.43 291.03 588 293.9 588C296.77 588 299.68 587.43 302.5 586.8C305.38 586.16 308.17 585.07 311 584.2C312.03 582.8 313.07 581.4 314.1 580C315.93 581.13 317.68 582.45 319.6 583.4C321.91 584.55 324.32 585.62 326.8 586.3C329.59 587.06 332.52 587.62 335.4 587.7C338.26 587.78 341.18 587.33 344 586.8C346.31 586.36 348.61 585.65 350.8 584.8C352.31 584.22 353.67 583.27 355.1 582.5C355.67 581.5 356.23 580.5 356.8 579.5C358.53 580.8 360.13 582.34 362 583.4C364.43 584.77 367.04 585.96 369.7 586.8C372.44 587.66 375.34 588.35 378.2 588.5C381.04 588.65 384 588.26 386.8 587.7C389.13 587.23 391.37 586.26 393.6 585.4C395.07 584.83 396.47 584.07 397.9 583.4C398.6 580.1 399.3 576.8 400 573.5C401.03 575.1 401.97 576.77 403.1 578.3C404.4 580.07 405.62 582.04 407.3 583.4C409.32 585.04 411.78 586.31 414.2 587.3C416.34 588.18 418.7 588.8 421 589C423.27 589.2 425.67 588.99 427.9 588.5C430.37 587.96 432.87 587.07 435.1 585.9C436.7 585.07 438.15 583.8 439.4 582.5C440.32 581.54 440.87 580.23 441.6 579.1C442.13 576.53 442.67 573.97 443.2 571.4C443.93 572.63 444.67 573.87 445.4 575.1C446.53 577 447.43 579.08 448.8 580.8C450.3 582.68 452.04 584.51 454 585.9C456.04 587.35 458.42 588.55 460.8 589.3C462.98 589.98 465.42 590.33 467.7 590.2C469.99 590.07 472.42 589.46 474.5 588.5C476.42 587.62 478.25 586.23 479.7 584.7C481.21 583.1 482.17 580.97 483.4 579.1C484.27 573.5 485.13 567.9 486 562.3C486.73 564.17 487.46 566.03 488.2 567.9C489.33 570.77 490.23 573.75 491.6 576.5C492.8 578.92 494.13 581.39 495.9 583.4C497.57 585.29 499.68 587.03 501.9 588.2C503.98 589.3 506.46 590.01 508.8 590.2C511.03 590.38 513.5 590.05 515.6 589.3C517.5 588.62 519.33 587.31 520.8 585.9C522.46 584.31 523.96 582.35 525 580.3C526.12 578.08 526.53 575.5 527.3 573.1C527.87 569.1 528.43 565.1 529 561.1C529.67 563.1 530.26 565.13 531 567.1C532.09 569.99 533.11 572.94 534.5 575.7C535.98 578.64 537.4 581.84 539.6 584.2C541.54 586.28 544.29 587.82 546.9 589C549.02 589.96 551.56 590.79 553.8 590.6C556.16 590.39 558.73 589.19 560.7 587.8C562.56 586.49 564.12 584.49 565.3 582.5C566.96 579.69 567.9 576.43 569.2 573.4C570.03 565.57 570.87 557.73 571.7 549.9C572.47 552.73 573.18 555.58 574 558.4C575.24 562.65 576.37 566.95 577.9 571.1C579.2 574.62 580.53 578.25 582.5 581.4C583.97 583.75 585.98 585.98 588.2 587.6C590.18 589.05 592.75 590.34 595.1 590.6C596.98 590.81 599.33 590.11 600.9 589C603.16 587.41 605.11 584.93 606.6 582.5C608.54 579.33 610.01 575.75 611.2 572.2C612.31 568.88 612.73 565.33 613.5 561.9C614.03 555.93 614.57 549.97 615.1 544C615.87 547.27 616.58 550.55 617.4 553.8C618.48 558.05 619.48 562.32 620.8 566.5C622.02 570.36 623.23 574.29 625 577.9C626.53 581.02 628.28 584.35 630.7 586.7C632.48 588.42 635.19 589.59 637.6 590.1C639.43 590.49 641.79 590.3 643.4 589.4C645.62 588.16 647.75 585.96 649.1 583.7C651.18 580.23 652.42 576.11 653.7 572.2C654.55 569.61 654.9 566.87 655.5 564.2C656.27 545.2 657.03 526.2 657.8 507.2C658.33 511.63 658.85 516.07 659.4 520.5C660.15 526.63 660.79 532.79 661.7 538.9C662.73 545.82 663.83 552.74 665.2 559.6C666.13 564.24 667.17 568.9 668.6 573.4C669.84 577.3 671.19 581.31 673.2 584.8C674.26 586.65 676.01 588.41 677.8 589.4C679.07 590.11 681.17 590.52 682.4 589.9C684.23 588.98 686.01 586.82 687 584.8C689.08 580.55 690.31 575.73 691.6 571.1C692.97 566.17 693.95 561.12 695 556.1C696.25 550.15 697.38 544.18 698.5 538.2C699.38 533.48 700.17 528.73 701 524" stroke="#0000ff"/>
</g>
<g stroke="#555555" stroke-width="1.2" fill="none">
<rect x="44" y="345.6" width="656.4" height="255.6"/>
<line x1="44" x2="700.4" y1="473.7" y2="473.7"/>
<path d="M77.42 601.2v3.4M120.65 601.2v3.4M163.55 601.2v3.4M206.35 601.2v3.4M249.15 601.2v3.4M292 601.2v3.4M335 601.2v3.4M377.95 601.2v3.4M420.9 601.2v3.4M464 601.2v3.4M507.1 601.2v3.4M550 601.2v3.4M592.9 601.2v3.4M636.1 601.2v3.4M678.75 601.2v3.4M44 351.8h-3.1M44 394.5h-3.1M44 437.4h-3.1M44 473.7h-3.1M44 502.65h-3.1M44 531.6h-3.1M44 560.55h-3.1M44 589.5h-3.1"/>
</g>
<g font-size="11.0" fill="#111">
<text x="77.42" y="615.8" text-anchor="middle">267b</text>
<text x="120.65" y="615.8" text-anchor="middle">269a</text>
<text x="163.55" y="615.8" text-anchor="middle">269b</text>
<text x="206.35" y="615.8" text-anchor="middle">270a</text>
<text x="249.15" y="615.8" text-anchor="middle">270b</text>
<text x="292" y="615.8" text-anchor="middle">271b</text>
<text x="335" y="615.8" text-anchor="middle">272a</text>
<text x="377.95" y="615.8" text-anchor="middle">272b</text>
<text x="420.9" y="615.8" text-anchor="middle">273b</text>
<text x="464" y="615.8" text-anchor="middle">274b</text>
<text x="507.1" y="615.8" text-anchor="middle">275a</text>
<text x="550" y="615.8" text-anchor="middle">275b</text>
<text x="592.9" y="615.8" text-anchor="middle">276a</text>
<text x="636.1" y="615.8" text-anchor="middle">276b</text>
<text x="678.75" y="615.8" text-anchor="middle">278a</text>
<text x="38.0" y="356.1" text-anchor="end">10<tspan font-size="7.7" dy="-4.3">6</tspan></text>
<text x="38.0" y="398.8" text-anchor="end">10<tspan font-size="7.7" dy="-4.3">4</tspan></text>
<text x="38.0" y="441.7" text-anchor="end">10<tspan font-size="7.7" dy="-4.3">2</tspan></text>
<text x="38.3" y="477.9" text-anchor="end">10.0</text>
<text x="38.3" y="506.85" text-anchor="end">7.5</text>
<text x="38.3" y="535.8" text-anchor="end">5.0</text>
<text x="38.3" y="564.75" text-anchor="end">2.5</text>
<text x="38.3" y="593.7" text-anchor="end">0.0</text>
</g>
<text transform="translate(13.3 409.65) rotate(-90)" text-anchor="middle" font-size="11.05" fill="#111">Flux [cm<tspan font-size="7.74" dy="-4.1">−2</tspan><tspan dy="4.1" dx="0.7"> s</tspan><tspan font-size="7.74" dy="-4.1">−1</tspan><tspan dy="4.1" dx="0.7"> sr</tspan><tspan font-size="7.74" dy="-4.1">−1</tspan><tspan dy="4.1">]</tspan></text>
<text transform="translate(8.5 537.45) rotate(-90)" text-anchor="middle" font-size="11.05" fill="#111">Flux difference [%]</text>
<text x="372.5" y="629.4" text-anchor="middle" font-size="11.05" fill="#111">Orbit number</text>
<text x="362" y="338.3" text-anchor="middle" font-size="12.6" fill="#111">Season 2015</text>
<text x="677" y="358.75" text-anchor="middle" font-size="12.9" fill="#111">(c)</text>
<text x="677" y="486.15" text-anchor="middle" font-size="12.9" fill="#111">(d)</text>
<rect x="49.5" y="351.7" width="96.3" height="35.6" rx="2" fill="#fff" fill-opacity="0.8" stroke="#d4d4d4" stroke-width="0.9"/>
<line x1="53.3" x2="76.3" y1="360.7" y2="360.7" stroke="#008000" stroke-width="1.3"/>
<line x1="53.3" x2="76.3" y1="376.5" y2="376.5" stroke="#0000ff" stroke-width="1.3"/>
<text x="84.8" y="364" font-size="11.05" fill="#111">primary</text>
<text x="84.8" y="379.8" font-size="11.05" fill="#111">secondary</text>
</svg>
</body></html>
